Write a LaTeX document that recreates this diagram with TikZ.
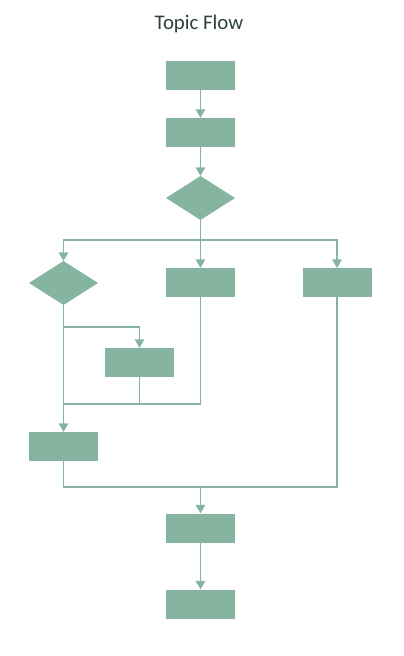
\documentclass[tikz,border=0pt]{standalone}
\usepackage{fontspec}
\setmainfont{Carlito}
\usetikzlibrary{arrows.meta,positioning,shapes.geometric}
\definecolor{flowgreen}{HTML}{85B4A1}
\definecolor{titlegray}{HTML}{2E3F40}

\begin{document}
\begin{tikzpicture}[x=0.75pt,y=-0.75pt,->,>={Triangle[width=7pt,length=6.5pt]},line width=1.4pt,draw=flowgreen,
    node distance=21pt,
    step box/.style={rectangle,fill=flowgreen,draw=none,inner sep=0pt,outer sep=0pt,minimum width=51.75pt,minimum height=21.75pt},
    test box/.style={diamond,fill=flowgreen,draw=none,inner sep=0pt,outer sep=0pt,minimum width=51.75pt,minimum height=33pt}]

            \useasboundingbox (0,0) rectangle (403,656);

            \node[anchor=base,text=titlegray,font=\fontsize{15.6}{18}\selectfont] (title) at (199,30) {Topic Flow};

            \node[step box] (b1) at (200.5,75.5) {};
            \node[step box] (b2) [below = of b1] {};
            \node[test box] (d1) at (200.5,198) {};

            \node[test box] (d2) at (63.5,283) {};
            \node[step box] (b3) at (200.5,282.5) {};
            \node[step box] (b4) at (337,282.5) {};
            \node[step box] (b5) at (139.5,362.5) {};
            \node[step box] (b6) at (63.5,446.5) {};
            \node[step box] (b7) at (200.5,528) {};
            \node[step box] (b8) at (200.5,604) {};

            \coordinate (split) at (200.5,240);
            \coordinate (fork) at (63.5,327);
            \coordinate (merge) at (63.5,404);
            \coordinate (join) at (200.5,487);

            \path[draw=flowgreen]
                (b1) edge (b2)
                (b2) edge (d1)
                (d1) edge (b3)
                (d2) edge (b6)
            ;

            \draw (split) -| (d2);
            \draw (split) -| (b4);
            \draw (fork) -| (b5);

            \draw[-] (b3) |- (merge);
            \draw[-] (b5) -- (b5 |- merge);

            \draw[-] (b6) |- (join) -| (b4);
            \draw (join) -- (b7);
            \draw (b7) -- (b8);

        \end{tikzpicture}
\end{document}
